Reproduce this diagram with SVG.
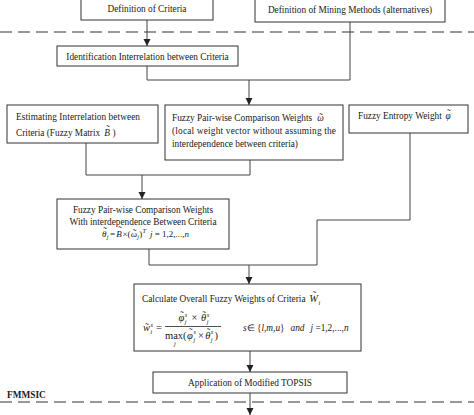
<svg xmlns="http://www.w3.org/2000/svg" width="474" height="415" viewBox="0 0 474 415">
<defs>
<marker id="ah" markerUnits="userSpaceOnUse" markerWidth="7" markerHeight="8" refX="7" refY="3.5" orient="auto">
<path d="M0,0 L7,3.5 L0,7 z" fill="#222"/>
</marker>
<style>
.box{fill:#fff;stroke:#333;stroke-width:1}
.t{font-family:"Liberation Serif","Times New Roman",serif;font-size:9.3px;fill:#1a1a1a}
.c{text-anchor:middle}
.i{font-style:italic}
.s{font-size:6.3px}
.m{font-size:10.5px}
.d{font-size:9px}
.tl{text-anchor:middle;font-size:11px}
.ln{fill:none;stroke:#444;stroke-width:1}
.dash{fill:none;stroke:#333;stroke-width:1;stroke-dasharray:12 6}
</style>
</defs>
<rect width="474" height="415" fill="#fff"/>

<g id="separators">
<line class="dash" x1="0" y1="32" x2="474" y2="32"/>
<line class="dash" x1="0" y1="402" x2="474" y2="402"/>
<text class="t" x="7" y="398" font-weight="bold" font-size="9">FMMSIC</text>
</g>

<g id="connectors">
<line class="ln" x1="147" y1="20" x2="147" y2="46" marker-end="url(#ah)"/>
<path class="ln" d="M147,66 V80 H350 V22"/>
<line class="ln" x1="249" y1="80" x2="249" y2="105" marker-end="url(#ah)"/>
<path class="ln" d="M86,143 V175 H250 V160"/>
<line class="ln" x1="142" y1="175" x2="142" y2="199" marker-end="url(#ah)"/>
<path class="ln" d="M149,249 V265 H317 V220 H410 V133"/>
<line class="ln" x1="249" y1="265" x2="249" y2="284" marker-end="url(#ah)"/>
<line class="ln" x1="250" y1="351" x2="250" y2="372" marker-end="url(#ah)"/>
<line class="ln" x1="250" y1="393" x2="250" y2="415" marker-end="url(#ah)"/>
</g>

<g id="n-criteria">
<rect class="box" x="81" y="-2" width="132" height="22"/>
<text class="t c" x="147" y="12">Definition of Criteria</text>
</g>

<g id="n-methods">
<rect class="box" x="255" y="-2" width="190" height="24"/>
<text class="t c" x="350" y="13">Definition of Mining Methods (alternatives)</text>
</g>

<g id="n-identification">
<rect class="box" x="57" y="46" width="181" height="20"/>
<text class="t c" x="147.5" y="59.5">Identification Interrelation between Criteria</text>
</g>

<g id="n-estimating">
<rect class="box" x="7" y="105" width="151" height="38"/>
<text class="t" x="16" y="120" textLength="124" lengthAdjust="spacing">Estimating Interrelation between</text>
<text class="t" x="16" y="136">Criteria (Fuzzy Matrix</text>
<text class="t c i" x="107" y="136" font-size="10">B</text>
<text class="t tl" x="108" y="133.2">˜</text>
<text class="t" x="112.5" y="136">)</text>
</g>

<g id="n-pairwise">
<rect class="box" x="165" y="105" width="178" height="55"/>
<text class="t" x="172" y="121">Fuzzy Pair-wise Comparison Weights</text>
<text class="t c i" x="320.5" y="121" font-size="10">ω</text>
<text class="t tl" x="321.1" y="121.3">˜</text>
<text class="t" x="172" y="134" textLength="164" lengthAdjust="spacing">(local weight vector without assuming the</text>
<text class="t" x="172" y="146.5">interdependence between criteria)</text>
</g>

<g id="n-entropy">
<rect class="box" x="349" y="105" width="119" height="28"/>
<text class="t" x="358" y="119">Fuzzy Entropy Weight</text>
<text class="t c i" x="448" y="119" font-size="10">φ</text>
<text class="t tl" x="448.8" y="116.8">˜</text>
</g>

<g id="n-interdep">
<rect class="box" x="57" y="199" width="172" height="50"/>
<text class="t c" x="143" y="212.5">Fuzzy Pair-wise Comparison Weights</text>
<text class="t c" x="143" y="224.5">With interdependence Between Criteria</text>
<text class="t c i d" x="104.3" y="237">θ</text>
<text class="t tl" x="105" y="234.6" font-size="10">˜</text>
<text class="t i s" x="106.8" y="239">j</text>
<text class="t d" x="110" y="237">=</text>
<text class="t c i d" x="119" y="237">B</text>
<text class="t tl" x="120" y="234.4" font-size="10">˜</text>
<text class="t d" x="122.5" y="237">×(</text>
<text class="t c i d" x="134" y="237">ω</text>
<text class="t tl" x="134.5" y="237" font-size="10">˜</text>
<text class="t i s" x="137.2" y="239">j</text>
<text class="t d" x="139.2" y="237">)</text>
<text class="t i s" x="142.5" y="233.2">T</text>
<text class="t d" x="150" y="237"><tspan class="i">j</tspan> = 1,2,...,<tspan class="i">n</tspan></text>
</g>

<g id="n-overall">
<rect class="box" x="134" y="284" width="227" height="67"/>
<text class="t" x="142" y="302">Calculate Overall Fuzzy Weights of Criteria</text>
<text class="t c i m" x="313.5" y="302">W</text>
<text class="t tl" x="314.5" y="299.2" font-size="12">˜</text>
<text class="t i s" x="318.5" y="304.5">i</text>

<text class="t c i m" x="146.5" y="331">w</text>
<text class="t tl" x="147.2" y="331" font-size="11.5">˜</text>
<text class="t i s" x="150.5" y="327">s</text>
<text class="t i s" x="150.5" y="334">i</text>
<text class="t m" x="156" y="331">=</text>

<text class="t c i m" x="181.4" y="321">φ</text>
<text class="t tl" x="182.2" y="318.6" font-size="11.5">˜</text>
<text class="t i s" x="184.8" y="316.5">s</text>
<text class="t i s" x="184.8" y="324">j</text>
<text class="t m" x="191.6" y="321">×</text>
<text class="t c i m" x="203.6" y="321">θ</text>
<text class="t tl" x="204.4" y="318.6" font-size="11.5">˜</text>
<text class="t i s" x="206.8" y="316.5">s</text>
<text class="t i s" x="206.8" y="324">j</text>

<line x1="165" y1="326.5" x2="221" y2="326.5" stroke="#222" stroke-width="0.8"/>

<text class="t m" x="165" y="338.5">max(</text>
<text class="t c i m" x="190" y="338.5">φ</text>
<text class="t tl" x="190.8" y="336.1" font-size="11.5">˜</text>
<text class="t i s" x="193.4" y="334">s</text>
<text class="t i s" x="193.4" y="341.5">j</text>
<text class="t m" x="198" y="338.5">×</text>
<text class="t c i m" x="207.8" y="338.5">θ</text>
<text class="t tl" x="208.6" y="336.1" font-size="11.5">˜</text>
<text class="t i s" x="210.8" y="334">s</text>
<text class="t i s" x="210.8" y="341.5">j</text>
<text class="t m" x="214.5" y="338.5">)</text>
<text class="t i s" x="174" y="345.8">j</text>

<text class="t" x="243" y="331" font-size="9.8"><tspan class="i">s</tspan>∈ {<tspan class="i">l</tspan>,<tspan class="i">m</tspan>,<tspan class="i">u</tspan>}<tspan class="i" dx="6">and</tspan><tspan class="i" dx="6">j</tspan> =1,2,...,<tspan class="i">n</tspan></text>
</g>

<g id="n-topsis">
<rect class="box" x="153" y="372" width="194" height="21"/>
<text class="t c" x="250" y="385.5">Application of Modified TOPSIS</text>
</g>
</svg>
